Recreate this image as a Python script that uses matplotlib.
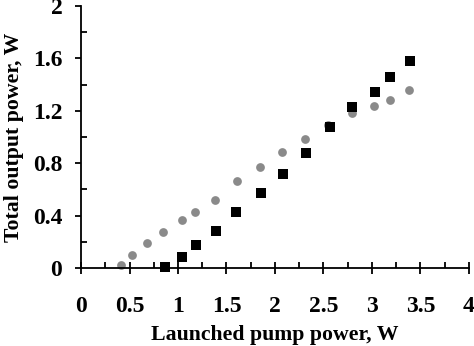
import matplotlib.pyplot as plt
from matplotlib.ticker import MultipleLocator

# total output power vs launched pump power
pump_circles = [0.41, 0.53, 0.68, 0.85, 1.04, 1.18, 1.38, 1.61, 1.85, 2.07, 2.31, 2.55, 2.80, 3.02, 3.19, 3.385]
out_circles = [0.023, 0.10, 0.188, 0.272, 0.366, 0.427, 0.519, 0.662, 0.773, 0.888, 0.982, 1.09, 1.186, 1.24, 1.285, 1.359]

pump_squares = [0.863, 1.041, 1.19, 1.388, 1.598, 1.852, 2.079, 2.32, 2.567, 2.80, 3.03, 3.19, 3.395]
out_squares = [0.01, 0.086, 0.173, 0.285, 0.425, 0.572, 0.717, 0.878, 1.076, 1.227, 1.341, 1.456, 1.58]

x_ticks = [0, 0.5, 1, 1.5, 2, 2.5, 3, 3.5, 4]
x_tick_labels = ['0', '0.5', '1', '1.5', '2', '2.5', '3', '3.5', '4']
y_ticks = [0, 0.4, 0.8, 1.2, 1.6, 2]
y_tick_labels = ['0', '0.4', '0.8', '1.2', '1.6', '2']

plt.rcParams['font.family'] = 'Liberation Serif'
plt.rcParams['font.weight'] = 'bold'

fig = plt.figure(figsize=(4.74, 3.46), dpi=100)
ax = fig.add_axes([0.171, 0.2254, 0.818, 0.7573])

ax.plot(pump_circles, out_circles, 'o', color='#8a8a8a', markersize=6.3, markeredgewidth=0, clip_on=False)
ax.plot(pump_squares, out_squares, 's', color='black', markersize=6.5, markeredgewidth=0, clip_on=False)

ax.set_xlim(0, 4)
ax.set_ylim(0, 2)
ax.spines['top'].set_visible(False)
ax.spines['right'].set_visible(False)
for s in ('left', 'bottom'):
    ax.spines[s].set_linewidth(1.3)

ax.set_xticks(x_ticks)
ax.set_xticklabels(x_tick_labels)
ax.set_yticks(y_ticks)
ax.set_yticklabels(y_tick_labels)
ax.xaxis.set_minor_locator(MultipleLocator(0.25))
ax.yaxis.set_minor_locator(MultipleLocator(0.2))

ax.tick_params(axis='x', which='major', direction='inout', length=9, width=1.3, pad=16, labelsize=17)
ax.tick_params(axis='x', which='minor', direction='in', length=4, width=1.3)
ax.tick_params(axis='y', which='major', direction='out', length=4.5, width=1.3, pad=9, labelsize=17)
ax.tick_params(axis='y', which='minor', direction='in', length=4, width=1.3)

ax.set_xlabel('Launched pump power, W', fontsize=15.7, fontweight='bold', labelpad=5.5)
ax.set_ylabel('Total output power, W', fontsize=15.7, fontweight='bold', labelpad=6)

fig.savefig('out.png', dpi=100)
